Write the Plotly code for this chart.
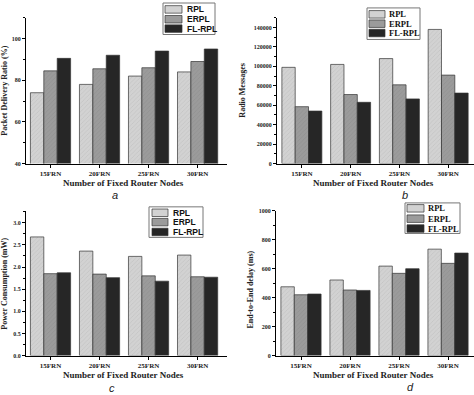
import plotly.graph_objects as go

W, H = 474, 395

categories = ["15FRN", "20FRN", "25FRN", "30FRN"]
series_names = ["RPL", "ERPL", "FL-RPL"]

pdr_rpl = [74, 78, 82, 84]
pdr_erpl = [84.5, 85.5, 86, 89]
pdr_flrpl = [90.5, 92, 94, 95]

msg_rpl = [99000, 102000, 108000, 138000]
msg_erpl = [58500, 71000, 81000, 91000]
msg_flrpl = [54000, 63000, 66500, 72500]

pow_rpl = [2.68, 2.36, 2.24, 2.27]
pow_erpl = [1.85, 1.84, 1.80, 1.78]
pow_flrpl = [1.87, 1.76, 1.68, 1.77]

delay_rpl = [475, 522, 618, 735]
delay_erpl = [420, 453, 568, 637]
delay_flrpl = [425, 450, 600, 708]

panels = [
    dict(vals=[pdr_rpl, pdr_erpl, pdr_flrpl], title="Packet Delivery Ratio (%)", label="a"),
    dict(vals=[msg_rpl, msg_erpl, msg_flrpl], title="Radio Messages", label="b"),
    dict(vals=[pow_rpl, pow_erpl, pow_flrpl], title="Power Consumption (mW)", label="c"),
    dict(vals=[delay_rpl, delay_erpl, delay_flrpl], title="End-to-End delay (ms)", label="d"),
]

colors = ["#d2d2d2", "#9b9b9b", "#262626"]
pattern_fg = ["#b4b4b4", "#888888", "#262626"]
SERIF = "Liberation Serif, Times New Roman, serif"
SANS = "Liberation Sans, Arial, sans-serif"


def px(x):
    return x / W


def py(y):
    return 1 - y / H


# layout geometry (pixels)
geo = [
    dict(x0=26, x1=227, y0=15, y1=163, xr=[-0.5, 3.6], yr=[40, 110], tv=[40, 60, 80, 100], fmt="d",
         ytitle=(5, 89), xtitle=(123, 183), lab=(115, 195), minor=10),
    dict(x0=277, x1=474, y0=15, y1=163, xr=[-0.51, 3.53], yr=[0, 150000],
         tv=[0, 20000, 40000, 60000, 80000, 100000, 120000, 140000], fmt="d",
         ytitle=(243, 89), xtitle=(373, 183), lab=(405, 195), minor=10000),
    dict(x0=26, x1=227, y0=211, y1=358, xr=[-0.5, 3.6], yr=[0, 3.27],
         tv=[0, 0.5, 1.0, 1.5, 2.0, 2.5, 3.0], fmt=".1f",
         ytitle=(5, 285), xtitle=(123, 378), lab=(112, 391), minor=0.25),
    dict(x0=276, x1=474, y0=211, y1=358, xr=[-0.51, 3.53], yr=[0, 1000],
         tv=[0, 200, 400, 600, 800, 1000], fmt="d",
         ytitle=(251, 291), xtitle=(373, 378), lab=(410, 390), minor=100),
]

fig = go.Figure()
annotations = []
shapes = []

for i, (p, g) in enumerate(zip(panels, geo)):
    n = "" if i == 0 else str(i + 1)
    for k in range(3):
        fig.add_trace(go.Bar(
            x=categories, y=p["vals"][k], name=series_names[k],
            xaxis="x" + n, yaxis="y" + n, showlegend=False,
            marker=dict(color=colors[k], line=dict(color="#333333", width=0.7),
                        pattern=dict(shape="/" if k < 2 else "", fillmode="overlay",
                                     fgcolor=pattern_fg[k], size=3, solidity=0.25)),
        ))
    fig.layout["xaxis" + n] = dict(
        domain=[px(g["x0"]), px(g["x1"])], anchor="y" + n, range=g["xr"],
        showline=True, linecolor="black", linewidth=1, ticks="outside", ticklen=3,
        tickcolor="black", tickfont=dict(family=SERIF, size=7, color="#222", weight="bold"),
        showgrid=False, zeroline=False, fixedrange=True,
    )
    fig.layout["yaxis" + n] = dict(
        domain=[py(g["y1"]), py(g["y0"])], anchor="x" + n, range=g["yr"],
        tickvals=g["tv"], tickformat=g["fmt"],
        showline=True, linecolor="black", linewidth=1, ticks="outside", ticklen=3,
        tickcolor="black", tickfont=dict(family=SERIF, size=6, color="#222", weight="bold"),
        minor=dict(ticks="outside", ticklen=2, dtick=g["minor"], tickcolor="black"),
        showgrid=False, zeroline=False, fixedrange=True,
    )
    annotations.append(dict(
        text=p["title"], x=px(g["ytitle"][0]), y=py(g["ytitle"][1]), xref="paper", yref="paper",
        textangle=-90, showarrow=False, xanchor="center", yanchor="middle",
        font=dict(family=SERIF, size=8, color="#222", weight="bold")))
    annotations.append(dict(
        text="Number of Fixed Router Nodes", x=px(g["xtitle"][0]), y=py(g["xtitle"][1]),
        xref="paper", yref="paper", showarrow=False, xanchor="center", yanchor="middle",
        font=dict(family=SERIF, size=9, color="#222", weight="bold")))
    annotations.append(dict(
        text="<i>" + p["label"] + "</i>", x=px(g["lab"][0]), y=py(g["lab"][1]),
        xref="paper", yref="paper", showarrow=False, xanchor="center", yanchor="middle",
        font=dict(family=SANS, size=11, color="#222")))

# legends (drawn as boxes with swatches)
legends = [
    dict(box=(163, 0, 215, 32), sw=(165, 182), rows=[6.5, 16.5, 26], tx=185, font=SANS),
    dict(box=(367, 5, 420, 37), sw=(369, 385), rows=[11.5, 21, 30.5], tx=387, font=SERIF),
    dict(box=(149, 207, 203, 238), sw=(152, 168), rows=[213, 222.5, 232.5], tx=171, font=SANS),
    dict(box=(405, 203, 460, 234), sw=(407, 424), rows=[208.5, 219, 229], tx=426, font=SERIF),
]
for L in legends:
    bx0, by0, bx1, by1 = L["box"]
    shapes.append(dict(type="rect", xref="paper", yref="paper",
                       x0=px(bx0), x1=px(bx1), y0=py(by1), y1=py(by0),
                       line=dict(color="#777", width=1), fillcolor="white", layer="above"))
    for k, yc in enumerate(L["rows"]):
        shapes.append(dict(type="rect", xref="paper", yref="paper",
                           x0=px(L["sw"][0]), x1=px(L["sw"][1]), y0=py(yc + 3.8), y1=py(yc - 3.8),
                           line=dict(color="#333", width=0.7), fillcolor=colors[k], layer="above"))
        annotations.append(dict(
            text=series_names[k], x=px(L["tx"]), y=py(yc), xref="paper", yref="paper",
            showarrow=False, xanchor="left", yanchor="middle",
            font=dict(family=L["font"], size=8.5, color="#111", weight="bold")))

fig.update_layout(
    width=W, height=H, margin=dict(l=0, r=0, t=0, b=0),
    paper_bgcolor="white", plot_bgcolor="white",
    barmode="group", bargap=0.18, bargroupgap=0,
    annotations=annotations, shapes=shapes, showlegend=False,
)

fig.write_html("out.html", config={"displayModeBar": False},
               post_script="document.body.style.margin='0';document.body.style.overflow='hidden';")
